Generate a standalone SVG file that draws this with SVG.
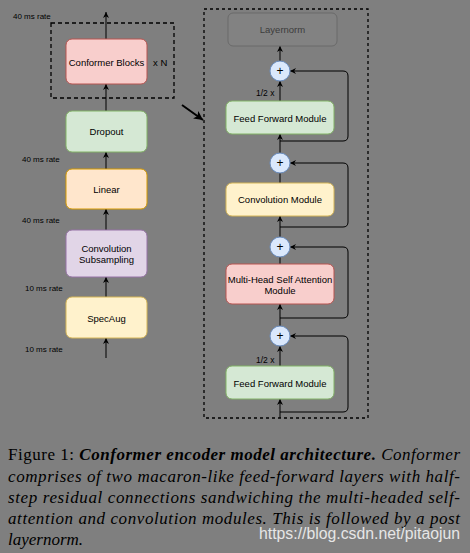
<svg xmlns="http://www.w3.org/2000/svg" width="470" height="553" viewBox="0 0 470 553">
<defs>
<style>
.box{stroke-width:1;}
.lbl{font-family:"Liberation Sans",Arial,sans-serif;font-size:9.5px;fill:#000;text-anchor:middle;dominant-baseline:central;}
.rate{font-family:"Liberation Sans",Arial,sans-serif;font-size:8px;fill:#000;}
.edge{stroke:#000;stroke-width:1;fill:none;}
.cap{font-family:"Liberation Serif","Times New Roman",serif;font-size:17px;fill:#000;font-style:italic;}
.plus{fill:#dae8fc;stroke:#6c8ebf;stroke-width:1;}
</style>
<marker id="ah" viewBox="0 0 8 8" refX="8" refY="4" markerWidth="6" markerHeight="6" markerUnits="userSpaceOnUse" orient="auto">
<path d="M0,0 L8,4 L0,8 L2.5,4 Z" fill="#000"/>
</marker>
<marker id="big" viewBox="0 0 8 8" refX="8" refY="4" markerWidth="9" markerHeight="9" markerUnits="userSpaceOnUse" orient="auto">
<path d="M0,0 L8,4 L0,8 L2,4 Z" fill="#000"/>
</marker>
</defs>
<rect width="470" height="553" fill="#7f7f7f"/>

<!-- dashed frames -->
<rect x="51" y="23" width="123" height="75" fill="none" stroke="#000" stroke-width="1.3" stroke-dasharray="4,3"/>
<rect x="204" y="9" width="164" height="409" fill="none" stroke="#000" stroke-width="1.3" stroke-dasharray="3,3"/>

<g id="connectors">
<line class="edge" x1="106" y1="358" x2="106" y2="338" marker-end="url(#ah)"/>
<line class="edge" x1="106" y1="297" x2="106" y2="277" marker-end="url(#ah)"/>
<line class="edge" x1="106" y1="230" x2="106" y2="209" marker-end="url(#ah)"/>
<line class="edge" x1="106" y1="169" x2="106" y2="152" marker-end="url(#ah)"/>
<line class="edge" x1="106" y1="111" x2="106" y2="84" marker-end="url(#ah)"/>
<line class="edge" x1="106" y1="39" x2="106" y2="12" marker-end="url(#ah)"/>
<line x1="182" y1="105" x2="203" y2="120" stroke="#000" stroke-width="2" marker-end="url(#big)"/>

<line class="edge" x1="280" y1="418" x2="280" y2="399" marker-end="url(#ah)"/>
<path class="edge" d="M280,412 H343 Q348,412 348,407 V341 Q348,336 343,336 H290" marker-end="url(#ah)"/>
<line class="edge" x1="280" y1="366" x2="280" y2="346" marker-end="url(#ah)"/>
<line class="edge" x1="280" y1="326" x2="280" y2="304" marker-end="url(#ah)"/>
<path class="edge" d="M280,318 H343 Q348,318 348,313 V252 Q348,247 343,247 H290" marker-end="url(#ah)"/>
<line class="edge" x1="280" y1="264" x2="280" y2="257"/>
<line class="edge" x1="280" y1="237" x2="280" y2="216" marker-end="url(#ah)"/>
<path class="edge" d="M280,227 H343 Q348,227 348,222 V168 Q348,163 343,163 H290" marker-end="url(#ah)"/>
<line class="edge" x1="280" y1="183" x2="280" y2="173"/>
<line class="edge" x1="280" y1="153" x2="280" y2="134" marker-end="url(#ah)"/>
<path class="edge" d="M280,141 H343 Q348,141 348,136 V76 Q348,71 343,71 H290" marker-end="url(#ah)"/>
<line class="edge" x1="280" y1="101" x2="280" y2="81" marker-end="url(#ah)"/>
<line class="edge" x1="280" y1="61" x2="280" y2="46" marker-end="url(#ah)"/>
</g>

<!-- left column -->
<g id="conformer-blocks">
<rect class="box" x="66" y="39" width="81" height="45" rx="6" fill="#f8cecc" stroke="#b85450"/>
<text class="lbl" x="106.5" y="62">Conformer Blocks</text>
</g>
<g id="xn"><text x="153" y="65.5" font-family="Liberation Sans,Arial,sans-serif" font-size="9.5px" fill="#000">x N</text></g>
<g id="dropout">
<rect class="box" x="66" y="111" width="81" height="41" rx="6" fill="#d5e8d4" stroke="#82b366"/>
<text class="lbl" x="106.5" y="131.5">Dropout</text>
</g>
<g id="linear">
<rect class="box" x="66" y="169" width="81" height="40" rx="6" fill="#ffe6cc" stroke="#d79b00"/>
<text class="lbl" x="106.5" y="189.5">Linear</text>
</g>
<g id="conv-sub">
<rect class="box" x="66" y="230" width="81" height="47" rx="6" fill="#e1d5e7" stroke="#9673a6"/>
<text class="lbl" x="106.5" y="248.5">Convolution</text>
<text class="lbl" x="106.5" y="259.5">Subsampling</text>
</g>
<g id="specaug">
<rect class="box" x="66" y="297" width="81" height="41" rx="6" fill="#fff2cc" stroke="#d6b656"/>
<text class="lbl" x="106.5" y="318">SpecAug</text>
</g>
<g id="rates">
<text class="rate" x="13" y="19">40 ms rate</text>
<text class="rate" x="22" y="162">40 ms rate</text>
<text class="rate" x="22" y="223">40 ms rate</text>
<text class="rate" x="25" y="291">10 ms rate</text>
<text class="rate" x="25" y="352">10 ms rate</text>
</g>

<!-- right column -->
<g id="layernorm">
<rect x="228" y="13" width="109" height="33" rx="5" fill="#828282" stroke="#6a6a6a" stroke-width="1"/>
<text class="lbl" x="282.5" y="29.5" style="fill:#3c3c3c">Layernorm</text>
</g>
<g id="ff-top">
<rect class="box" x="226" y="101" width="108" height="33" rx="6" fill="#d5e8d4" stroke="#82b366"/>
<text class="lbl" x="280" y="118">Feed Forward Module</text>
</g>
<g id="conv-module">
<rect class="box" x="226" y="183" width="108" height="33" rx="6" fill="#fff2cc" stroke="#d6b656"/>
<text class="lbl" x="280" y="199.5">Convolution Module</text>
</g>
<g id="mhsa">
<rect class="box" x="226" y="264" width="108" height="40" rx="6" fill="#f8cecc" stroke="#b85450"/>
<text class="lbl" x="280" y="279.5">Multi-Head Self Attention</text>
<text class="lbl" x="280" y="290">Module</text>
</g>
<g id="ff-bottom">
<rect class="box" x="226" y="366" width="108" height="33" rx="6" fill="#d5e8d4" stroke="#82b366"/>
<text class="lbl" x="280" y="383">Feed Forward Module</text>
</g>
<g id="plus1"><circle class="plus" cx="280" cy="71" r="10"/><text class="lbl" x="280" y="71" style="font-size:12px">+</text></g>
<g id="plus2"><circle class="plus" cx="280" cy="163" r="10"/><text class="lbl" x="280" y="163" style="font-size:12px">+</text></g>
<g id="plus3"><circle class="plus" cx="280" cy="247" r="10"/><text class="lbl" x="280" y="247" style="font-size:12px">+</text></g>
<g id="plus4"><circle class="plus" cx="280" cy="336" r="10"/><text class="lbl" x="280" y="336" style="font-size:12px">+</text></g>
<g id="half-labels">
<text x="256" y="96" font-family="Liberation Sans,Arial,sans-serif" font-size="8.5px" fill="#000">1/2 x</text>
<text x="256" y="363" font-family="Liberation Sans,Arial,sans-serif" font-size="8.5px" fill="#000">1/2 x</text>
</g>

<!-- caption -->
<g id="caption">
<text class="cap" x="8" y="460" textLength="452" lengthAdjust="spacing"><tspan font-style="normal">Figure 1: </tspan><tspan font-weight="bold">Conformer encoder model architecture.</tspan> Conformer</text>
<text class="cap" x="8" y="482" textLength="452" lengthAdjust="spacing">comprises of two macaron-like feed-forward layers with half-</text>
<text class="cap" x="8" y="503" textLength="452" lengthAdjust="spacing">step residual connections sandwiching the multi-headed self-</text>
<text class="cap" x="8" y="524" textLength="452" lengthAdjust="spacing">attention and convolution modules. This is followed by a post</text>
<text class="cap" x="8" y="545">layernorm.</text>
</g>
<text x="259" y="539" font-family="Liberation Sans,Arial,sans-serif" font-size="15.8px" fill="#e6e6e6">https://blog.csdn.net/pitaojun</text>
</svg>
